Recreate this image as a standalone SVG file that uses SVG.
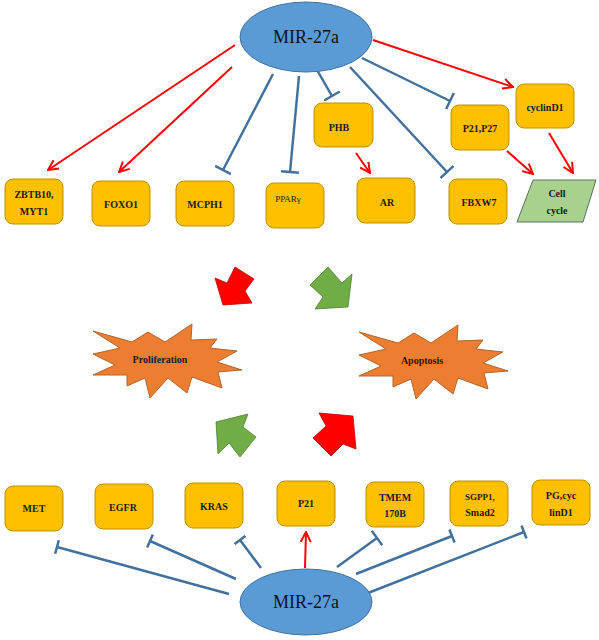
<svg xmlns="http://www.w3.org/2000/svg" width="599" height="640" viewBox="0 0 599 640">
<style>
.box{fill:#FFC000;stroke:#BF9000;stroke-width:1}
.t{font-family:"Liberation Serif","Times New Roman",serif;font-weight:bold;font-size:10px;fill:#1a1a1a;text-anchor:middle}
.mir{fill:#5B9BD5;stroke:#41719C;stroke-width:1}
.mirt{font-family:"Liberation Serif","Times New Roman",serif;font-size:18px;fill:#111;text-anchor:middle}
.star{fill:#ED7D31;stroke:#B0652A;stroke-width:1}
.inh{stroke:#41719C;stroke-width:2.5;fill:none;marker-end:url(#tee)}
.inhs{stroke:#41719C;stroke-width:2.5;fill:none;marker-end:url(#tees)}
.act{stroke:#FF0000;stroke-width:2;fill:none;marker-end:url(#arr)}
.red{fill:#FF0000;stroke:#C00000;stroke-width:0.8}
.grn{fill:#70AD47;stroke:#507E32;stroke-width:0.8}
</style>
<defs>
<marker id="tee" viewBox="0 0 4 18" refX="2" refY="9" markerWidth="4" markerHeight="18" orient="auto" markerUnits="userSpaceOnUse"><path d="M2,0 V18" stroke="#41719C" stroke-width="2.5"/></marker>
<marker id="tees" viewBox="0 0 4 14" refX="2" refY="7" markerWidth="4" markerHeight="14" orient="auto" markerUnits="userSpaceOnUse"><path d="M2,0 V14" stroke="#41719C" stroke-width="2.5"/></marker>
<marker id="arr" viewBox="0 0 12 12" refX="11" refY="6" markerWidth="12" markerHeight="12" orient="auto" markerUnits="userSpaceOnUse"><path d="M1,1 L11,6 L1,11" fill="none" stroke="#FF0000" stroke-width="2"/></marker>
</defs>
<rect width="599" height="640" fill="#fff"/>

<g id="connectors">
<line class="act" x1="235" y1="45" x2="48" y2="170"/>
<line class="act" x1="232" y1="67" x2="119" y2="172"/>
<line class="inh" x1="273" y1="74" x2="223" y2="170"/>
<line class="inh" x1="299" y1="76" x2="290" y2="172"/>
<line class="inh" x1="317" y1="70" x2="332" y2="96"/>
<line class="inh" x1="350" y1="67" x2="447" y2="172"/>
<line class="inh" x1="362" y1="58" x2="450" y2="101"/>
<line class="act" x1="373" y1="40" x2="513" y2="87"/>
<line class="act" x1="356" y1="153" x2="370" y2="173"/>
<line class="act" x1="507" y1="151" x2="533" y2="174"/>
<line class="act" x1="549" y1="133" x2="573" y2="173"/>
<line class="inhs" x1="229" y1="594" x2="57" y2="547"/>
<line class="inhs" x1="236" y1="579" x2="150" y2="541"/>
<line class="inhs" x1="261" y1="568" x2="240" y2="540"/>
<line class="act" x1="305" y1="568" x2="306" y2="532"/>
<line class="inh" x1="337" y1="567" x2="377" y2="538"/>
<line class="inhs" x1="356" y1="574" x2="452" y2="536"/>
<line class="inhs" x1="368" y1="593" x2="524" y2="532"/>
</g>

<g id="mir27a-top"><ellipse class="mir" cx="306" cy="37" rx="66" ry="35"/><text class="mirt" x="306" y="43">MIR-27a</text></g>

<g id="zbtb10"><rect class="box" x="5" y="179" width="58" height="45" rx="8"/><text class="t" x="34" y="197.5">ZBTB10,</text><text class="t" x="34" y="214.5">MYT1</text></g>
<g id="foxo1"><rect class="box" x="92" y="181" width="58" height="45" rx="8"/><text class="t" x="121" y="207.5">FOXO1</text></g>
<g id="mcph1"><rect class="box" x="176" y="181" width="58" height="45" rx="8"/><text class="t" x="205" y="207.5">MCPH1</text></g>
<g id="ppar"><rect class="box" x="266" y="183" width="58" height="45" rx="8"/><text class="t" x="288" y="202" style="font-size:9px;font-weight:normal">PPARγ</text></g>
<g id="phb"><rect class="box" x="314" y="103" width="59" height="44" rx="8"/><text class="t" x="339" y="130.5">PHB</text></g>
<g id="ar"><rect class="box" x="357" y="178" width="58" height="45" rx="8"/><text class="t" x="387" y="205.5">AR</text></g>
<g id="fbxw7"><rect class="box" x="449" y="179" width="58" height="45" rx="8"/><text class="t" x="479" y="205.5">FBXW7</text></g>
<g id="p21p27"><rect class="box" x="451" y="105" width="58" height="45" rx="8"/><text class="t" x="480" y="131.5">P21,P27</text></g>
<g id="cyclind1"><rect class="box" x="516" y="84" width="58" height="44" rx="8"/><text class="t" x="545" y="110.5">cyclinD1</text></g>
<g id="cellcycle"><polygon points="533,180 596,180 583,222 517,222" fill="#A9D18E" stroke="#5A6E62" stroke-width="1"/><text class="t" x="557" y="196.5">Cell</text><text class="t" x="557" y="213.5">cycle</text></g>

<g id="block-arrows">
<polygon class="red" points="235,267 254,279 245,291 252,303 223,305 215,278 227,283"/>
<polygon class="grn" points="328,267 342,283 352,274 348,307 315,309 323,297 310,285"/>
<polygon class="grn" points="216,422 248,414 243,427 256,437 240,457 229,443 218,454"/>
<polygon class="red" points="353,416 319,413 326,426 313,438 331,456 343,444 356,449"/>
</g>

<g id="proliferation"><polygon class="star" points="93,331 132,342 148,332 165,342 192,324 191,340 217,339 210,348 237,351 217,362 242,370 218,372 222,388 192,377 187,393 168,378 150,398 145,378 127,386 127,375 93,375 115,365 93,354 120,348"/><text class="t" x="160" y="362.5">Proliferation</text></g>
<g id="apoptosis"><polygon class="star" transform="translate(266,1)" points="93,331 132,342 148,332 165,342 192,324 191,340 217,339 210,348 237,351 217,362 242,370 218,372 222,388 192,377 187,393 168,378 150,398 145,378 127,386 127,375 93,375 115,365 93,354 120,348"/><text class="t" x="422" y="363.5">Apoptosis</text></g>

<g id="met"><rect class="box" x="5" y="486" width="58" height="45" rx="8"/><text class="t" x="34" y="511.5">MET</text></g>
<g id="egfr"><rect class="box" x="95" y="484" width="58" height="45" rx="8"/><text class="t" x="123" y="510.5">EGFR</text></g>
<g id="kras"><rect class="box" x="185" y="483" width="58" height="45" rx="8"/><text class="t" x="214" y="509.5">KRAS</text></g>
<g id="p21"><rect class="box" x="277" y="481" width="58" height="45" rx="8"/><text class="t" x="306" y="506.5">P21</text></g>
<g id="tmem170b"><rect class="box" x="366" y="482" width="58" height="45" rx="8"/><text class="t" x="395" y="500.5">TMEM</text><text class="t" x="395" y="516.5">170B</text></g>
<g id="sgpp1"><rect class="box" x="450" y="481" width="58" height="45" rx="8"/><text class="t" x="480" y="499.5" style="font-size:9px">SGPP1,</text><text class="t" x="480" y="515.5">Smad2</text></g>
<g id="pgcyclind1"><rect class="box" x="532" y="480" width="58" height="45" rx="8"/><text class="t" x="561" y="498.5">PG,cyc</text><text class="t" x="561" y="515.5">linD1</text></g>

<g id="mir27a-bottom"><ellipse class="mir" cx="306" cy="602" rx="66" ry="33"/><text class="mirt" x="306" y="608">MIR-27a</text></g>
</svg>
